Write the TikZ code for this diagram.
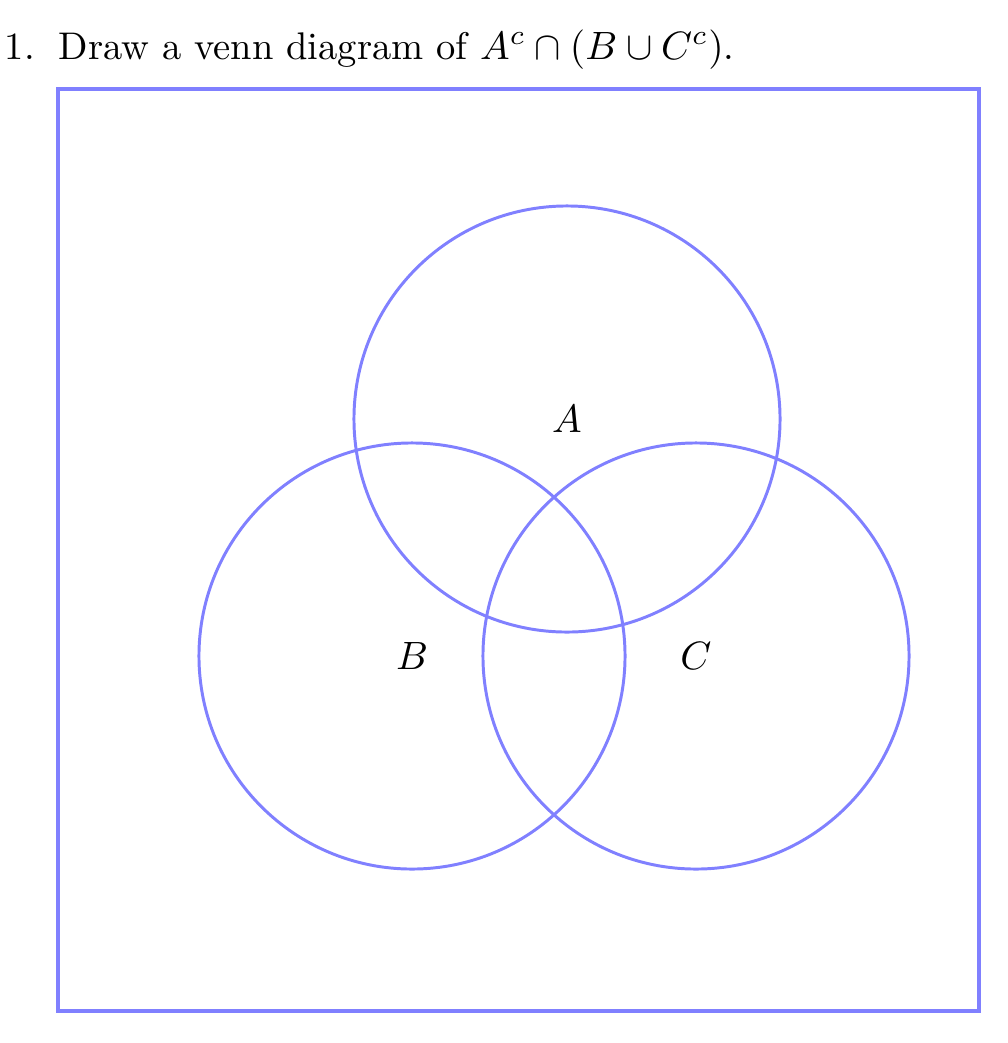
\documentclass[tikz,border=0pt]{standalone}
\usepackage{amsmath}
\usepackage{tikz}

\tikzset{
	venn/.style={draw=blue!50, line width=0.75pt, circle, minimum size=107.8pt, inner sep=0pt},
	univ/.style={draw=blue!50, line width=0.85pt}
}

\begin{document}
\begin{tikzpicture}[x=0.253pt, y=-0.253pt]
	  \useasboundingbox (0,0) rectangle (1007,1043);

	  % Question text
	  \node [anchor=base west, inner sep=0pt, font=\fontsize{9.75}{12}\selectfont] (num) at (4,59) {1.};
	  \node [anchor=base west, inner sep=0pt, font=\fontsize{9.75}{12}\selectfont] (question) at (58,59) {Draw a venn diagram of $A^c\cap(B\cup C^c)$.};

	  % Universe
	  \draw [univ] (58,89) rectangle (979,1011);

	  % Sets
	  \node [venn] (A) at (567,419) {$A$};
	  \node [venn] (B) at (412,656) {$B$};
	  \node [venn] (C) at (696,656) {$C$};
	 \end{tikzpicture}
\end{document}
